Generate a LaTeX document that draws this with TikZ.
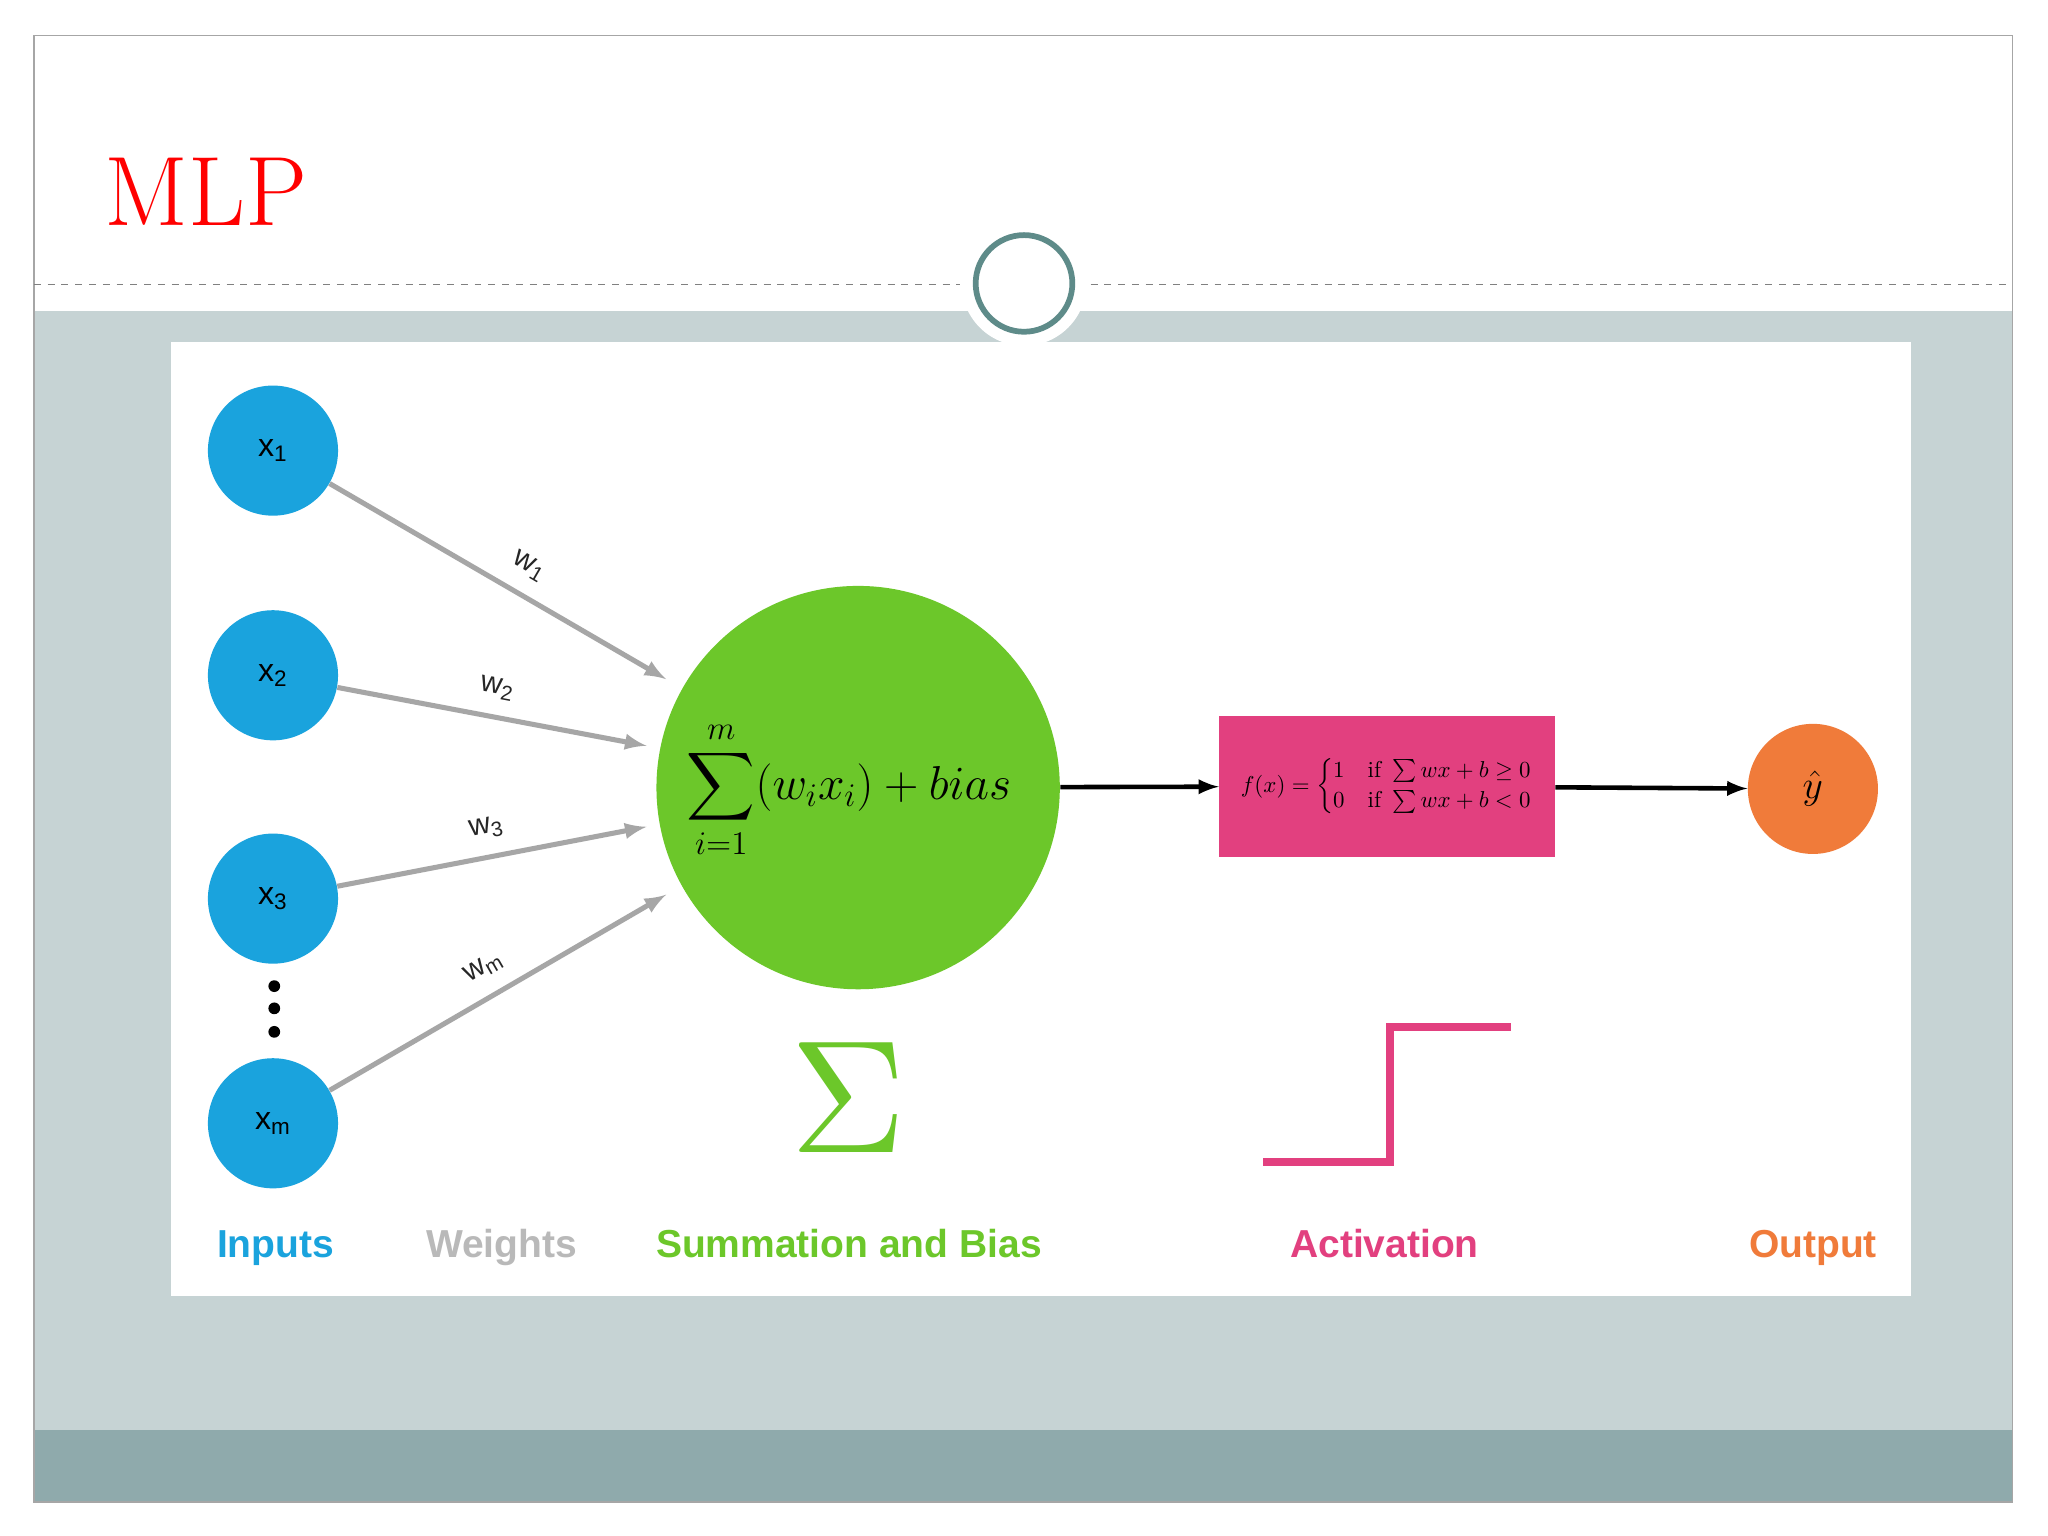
\documentclass[tikz,border=0pt]{standalone}
\usepackage{amsmath}
\usepackage{graphicx}
\usepackage{fontspec}
\newfontfamily\lsans{Liberation Sans}
\begin{document}
\begin{tikzpicture}[x=0.02cm,y=-0.02cm,
 inp/.style={circle,fill=inblue,minimum size=100\pxu,inner sep=0pt,font=\lsans\fontsize{14}{14}\selectfont},
 warr/.style={draw=gray!70,line width=2.2pt,-latex},
 barr/.style={draw=black,line width=2pt,-latex},
 wl/.style={font=\lsans\fontsize{13}{13}\selectfont,text=black!85,inner sep=7pt},
 lbl/.style={anchor=base,font=\lsans\bfseries\fontsize{17}{17}\selectfont}]
\def\pxu{*0.567pt}
\definecolor{inblue}{HTML}{1AA3DD}
\definecolor{sgreen}{HTML}{6CC72A}
\definecolor{apink}{HTML}{E2407F}
\definecolor{oorange}{HTML}{F07B3A}
\definecolor{band}{HTML}{C6D3D4}
\definecolor{dband}{HTML}{8FAAAC}
\definecolor{ring}{HTML}{5E8B89}
\useasboundingbox (0,0) rectangle (1568,1176);
\fill[band] (26,238) rectangle (1541,1095);
\fill[dband] (26,1095) rectangle (1541,1150);
\draw[gray!70,line width=0.6pt] (26,27) rectangle (1541,1150);
\draw[gray,dashed,line width=0.6pt] (26,218) -- (735,218) (835,218) -- (1541,218);
\node[circle,fill=white,minimum size=96\pxu,inner sep=0pt] (ring) at (784,217) {};
\draw[ring,line width=2.5pt] (784,217) circle (37);
\node[anchor=west,text=red,font=\fontsize{43}{43}\selectfont] (title) at (74,147) {MLP};
\fill[white] (131,262) rectangle (1463,992);
\node[inp] (x1) at (209,345) {x\textsubscript{1}};
\node[inp] (x2) at (209,517) {x\textsubscript{2}};
\node[inp] (x3) at (209,688) {x\textsubscript{3}};
\node[inp] (xm) at (209,860) {x\textsubscript{m}};
\foreach \y in {755,772,790} \fill (210,\y) circle (4.5);
\node[circle,fill=sgreen,minimum size=310\pxu,inner sep=0pt] (sum) at (657,603) {};
\node at (650,605) {\fontsize{20}{20}\selectfont$\displaystyle\sum_{i=1}^{m}(w_ix_i)+bias$};
\coordinate (e1) at (510,520); \coordinate (e2) at (495,571);
\coordinate (e3) at (495,633); \coordinate (e4) at (510,685);
\draw[warr] (x1) -- (e1) node[wl,pos=0.55,above,sloped] {w\textsubscript{1}};
\draw[warr] (x2) -- (e2) node[wl,pos=0.5,above,sloped] {w\textsubscript{2}};
\draw[warr] (x3) -- (e3) node[wl,pos=0.5,above,sloped] {w\textsubscript{3}};
\draw[warr] (xm) -- (e4) node[wl,pos=0.5,above,sloped] {w\textsubscript{m}};
\node[fill=apink,minimum width=258\pxu,minimum height=108\pxu,inner sep=0pt] (act) at (1062,602)
 {\fontsize{10}{11}\selectfont$f(x)=\begin{cases}1 & \text{if }\sum wx+b\ge 0\\ 0 & \text{if }\sum wx+b<0\end{cases}$};
\node[circle,fill=oorange,minimum size=100\pxu,inner sep=0pt,font=\fontsize{17}{17}\selectfont] (out) at (1388,604) {$\hat y$};
\draw[barr] (sum) -- (act);
\draw[barr] (act) -- (out);
\node[text=sgreen] (sig) at (650,840) {\scalebox{7}{$\Sigma$}};
\draw[apink,line width=3.5pt] (967,890) -- (1064,890) -- (1064,786) -- (1157,786);
\node[lbl,text=inblue] (l1) at (211,963) {Inputs};
\node[lbl,text=gray!55] (l2) at (384,963) {Weights};
\node[lbl,text=sgreen] (l3) at (650,963) {Summation and Bias};
\node[lbl,text=apink] (l4) at (1060,963) {Activation};
\node[lbl,text=oorange] (l5) at (1388,963) {Output};
\end{tikzpicture}
\end{document}
